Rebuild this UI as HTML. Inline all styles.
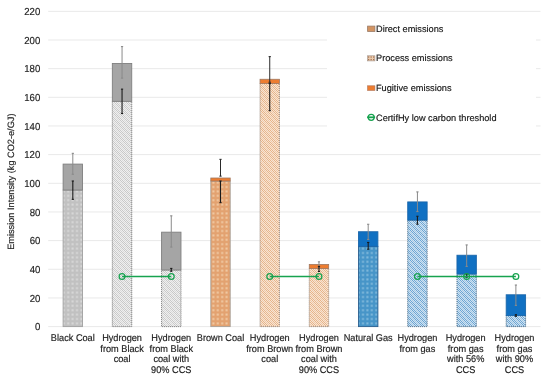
<!DOCTYPE html><html><head><meta charset="utf-8"><style>html,body{margin:0;padding:0;background:#fff;width:550px;height:379px;overflow:hidden}svg{display:block}text{font-family:"Liberation Sans",Arial,sans-serif;text-rendering:geometricPrecision}</style></head><body>
<svg width="550" height="379" viewBox="0 0 550 379">
<defs>
<pattern id="dotG" width="4.4" height="4.4" patternUnits="userSpaceOnUse"><rect width="4.4" height="4.4" fill="#c1c1c1"/><rect x="1.2" y="1.2" width="2" height="2" fill="#d9d9d9"/></pattern>
<pattern id="dotO" width="4.4" height="4.4" patternUnits="userSpaceOnUse"><rect width="4.4" height="4.4" fill="#e3a270"/><rect x="1.2" y="1.2" width="2" height="2" fill="#f0cba6"/></pattern>
<pattern id="dotB" width="4.4" height="4.4" patternUnits="userSpaceOnUse"><rect width="4.4" height="4.4" fill="#4795c8"/><rect x="1.2" y="1.2" width="2" height="2" fill="#82badc"/></pattern>
<pattern id="hatG" width="6" height="6" patternUnits="userSpaceOnUse"><rect width="6" height="6" fill="#efefef"/><rect x="0" y="0" width="1" height="1" fill="#c8c8c8"/><rect x="2" y="0" width="1" height="1" fill="#c8c8c8"/><rect x="4" y="0" width="1" height="1" fill="#d9d9d9"/><rect x="1" y="1" width="1" height="1" fill="#c8c8c8"/><rect x="3" y="1" width="1" height="1" fill="#c8c8c8"/><rect x="5" y="1" width="1" height="1" fill="#d9d9d9"/><rect x="0" y="2" width="1" height="1" fill="#d9d9d9"/><rect x="2" y="2" width="1" height="1" fill="#c8c8c8"/><rect x="4" y="2" width="1" height="1" fill="#c8c8c8"/><rect x="1" y="3" width="1" height="1" fill="#d9d9d9"/><rect x="3" y="3" width="1" height="1" fill="#c8c8c8"/><rect x="5" y="3" width="1" height="1" fill="#c8c8c8"/><rect x="0" y="4" width="1" height="1" fill="#c8c8c8"/><rect x="2" y="4" width="1" height="1" fill="#d9d9d9"/><rect x="4" y="4" width="1" height="1" fill="#c8c8c8"/><rect x="1" y="5" width="1" height="1" fill="#c8c8c8"/><rect x="3" y="5" width="1" height="1" fill="#d9d9d9"/><rect x="5" y="5" width="1" height="1" fill="#c8c8c8"/></pattern>
<pattern id="hatO" width="6" height="6" patternUnits="userSpaceOnUse"><rect width="6" height="6" fill="#f8e4d2"/><rect x="0" y="0" width="1" height="1" fill="#e6b48a"/><rect x="2" y="0" width="1" height="1" fill="#e6b48a"/><rect x="4" y="0" width="1" height="1" fill="#eec8a8"/><rect x="1" y="1" width="1" height="1" fill="#e6b48a"/><rect x="3" y="1" width="1" height="1" fill="#e6b48a"/><rect x="5" y="1" width="1" height="1" fill="#eec8a8"/><rect x="0" y="2" width="1" height="1" fill="#eec8a8"/><rect x="2" y="2" width="1" height="1" fill="#e6b48a"/><rect x="4" y="2" width="1" height="1" fill="#e6b48a"/><rect x="1" y="3" width="1" height="1" fill="#eec8a8"/><rect x="3" y="3" width="1" height="1" fill="#e6b48a"/><rect x="5" y="3" width="1" height="1" fill="#e6b48a"/><rect x="0" y="4" width="1" height="1" fill="#e6b48a"/><rect x="2" y="4" width="1" height="1" fill="#eec8a8"/><rect x="4" y="4" width="1" height="1" fill="#e6b48a"/><rect x="1" y="5" width="1" height="1" fill="#e6b48a"/><rect x="3" y="5" width="1" height="1" fill="#eec8a8"/><rect x="5" y="5" width="1" height="1" fill="#e6b48a"/></pattern>
<pattern id="hatB" width="6" height="6" patternUnits="userSpaceOnUse"><rect width="6" height="6" fill="#cde2f2"/><rect x="0" y="0" width="1" height="1" fill="#6ea5d2"/><rect x="2" y="0" width="1" height="1" fill="#6ea5d2"/><rect x="4" y="0" width="1" height="1" fill="#a5c8e4"/><rect x="1" y="1" width="1" height="1" fill="#6ea5d2"/><rect x="3" y="1" width="1" height="1" fill="#6ea5d2"/><rect x="5" y="1" width="1" height="1" fill="#a5c8e4"/><rect x="0" y="2" width="1" height="1" fill="#a5c8e4"/><rect x="2" y="2" width="1" height="1" fill="#6ea5d2"/><rect x="4" y="2" width="1" height="1" fill="#6ea5d2"/><rect x="1" y="3" width="1" height="1" fill="#a5c8e4"/><rect x="3" y="3" width="1" height="1" fill="#6ea5d2"/><rect x="5" y="3" width="1" height="1" fill="#6ea5d2"/><rect x="0" y="4" width="1" height="1" fill="#6ea5d2"/><rect x="2" y="4" width="1" height="1" fill="#a5c8e4"/><rect x="4" y="4" width="1" height="1" fill="#6ea5d2"/><rect x="1" y="5" width="1" height="1" fill="#6ea5d2"/><rect x="3" y="5" width="1" height="1" fill="#a5c8e4"/><rect x="5" y="5" width="1" height="1" fill="#6ea5d2"/></pattern>
</defs>
<line x1="48.2" y1="326.60" x2="540.5" y2="326.60" stroke="#e9e9e9" stroke-width="1"/>
<line x1="48.2" y1="297.94" x2="540.5" y2="297.94" stroke="#e9e9e9" stroke-width="1"/>
<line x1="48.2" y1="269.28" x2="540.5" y2="269.28" stroke="#e9e9e9" stroke-width="1"/>
<line x1="48.2" y1="240.62" x2="540.5" y2="240.62" stroke="#e9e9e9" stroke-width="1"/>
<line x1="48.2" y1="211.96" x2="540.5" y2="211.96" stroke="#e9e9e9" stroke-width="1"/>
<line x1="48.2" y1="183.30" x2="540.5" y2="183.30" stroke="#e9e9e9" stroke-width="1"/>
<line x1="48.2" y1="154.64" x2="540.5" y2="154.64" stroke="#e9e9e9" stroke-width="1"/>
<line x1="48.2" y1="125.98" x2="540.5" y2="125.98" stroke="#e9e9e9" stroke-width="1"/>
<line x1="48.2" y1="97.32" x2="540.5" y2="97.32" stroke="#e9e9e9" stroke-width="1"/>
<line x1="48.2" y1="68.66" x2="540.5" y2="68.66" stroke="#e9e9e9" stroke-width="1"/>
<line x1="48.2" y1="40.00" x2="540.5" y2="40.00" stroke="#e9e9e9" stroke-width="1"/>
<line x1="48.2" y1="11.34" x2="540.5" y2="11.34" stroke="#e9e9e9" stroke-width="1"/>
<text transform="matrix(1 0 0 1.06 40.3 330.20)" font-size="9.6" fill="#222222" stroke="#222222" stroke-width="0.16" text-anchor="end">0</text>
<text transform="matrix(1 0 0 1.06 40.3 301.54)" font-size="9.6" fill="#222222" stroke="#222222" stroke-width="0.16" text-anchor="end">20</text>
<text transform="matrix(1 0 0 1.06 40.3 272.88)" font-size="9.6" fill="#222222" stroke="#222222" stroke-width="0.16" text-anchor="end">40</text>
<text transform="matrix(1 0 0 1.06 40.3 244.22)" font-size="9.6" fill="#222222" stroke="#222222" stroke-width="0.16" text-anchor="end">60</text>
<text transform="matrix(1 0 0 1.06 40.3 215.56)" font-size="9.6" fill="#222222" stroke="#222222" stroke-width="0.16" text-anchor="end">80</text>
<text transform="matrix(1 0 0 1.06 40.3 186.90)" font-size="9.6" fill="#222222" stroke="#222222" stroke-width="0.16" text-anchor="end">100</text>
<text transform="matrix(1 0 0 1.06 40.3 158.24)" font-size="9.6" fill="#222222" stroke="#222222" stroke-width="0.16" text-anchor="end">120</text>
<text transform="matrix(1 0 0 1.06 40.3 129.58)" font-size="9.6" fill="#222222" stroke="#222222" stroke-width="0.16" text-anchor="end">140</text>
<text transform="matrix(1 0 0 1.06 40.3 100.92)" font-size="9.6" fill="#222222" stroke="#222222" stroke-width="0.16" text-anchor="end">160</text>
<text transform="matrix(1 0 0 1.06 40.3 72.26)" font-size="9.6" fill="#222222" stroke="#222222" stroke-width="0.16" text-anchor="end">180</text>
<text transform="matrix(1 0 0 1.06 40.3 43.60)" font-size="9.6" fill="#222222" stroke="#222222" stroke-width="0.16" text-anchor="end">200</text>
<text transform="matrix(1 0 0 1.06 40.3 14.94)" font-size="9.6" fill="#222222" stroke="#222222" stroke-width="0.16" text-anchor="end">220</text>
<rect x="63.11" y="190.04" width="19.4" height="136.56" fill="url(#dotG)" stroke="#a0a0a0" stroke-width="0.9"/>
<rect x="63.11" y="164.10" width="19.4" height="25.94" fill="#a5a5a5" stroke="#7f7f7f" stroke-width="0.9"/>
<rect x="112.34" y="101.33" width="19.4" height="225.27" fill="url(#hatG)"/>
<rect x="112.34" y="101.33" width="19.4" height="225.27" fill="none" stroke="#7a7a7a" stroke-width="0.9" stroke-dasharray="1.2 0.8"/>
<rect x="112.34" y="63.50" width="19.4" height="37.83" fill="#a5a5a5" stroke="#7f7f7f" stroke-width="0.9"/>
<rect x="161.58" y="270.00" width="19.4" height="56.60" fill="url(#hatG)"/>
<rect x="161.58" y="270.00" width="19.4" height="56.60" fill="none" stroke="#7a7a7a" stroke-width="0.9" stroke-dasharray="1.2 0.8"/>
<rect x="161.58" y="232.17" width="19.4" height="37.83" fill="#a5a5a5" stroke="#7f7f7f" stroke-width="0.9"/>
<rect x="210.81" y="181.01" width="19.4" height="145.59" fill="url(#dotO)" stroke="#a8a098" stroke-width="0.9"/>
<rect x="210.81" y="178.00" width="19.4" height="3.01" fill="#ed7d31" stroke="#a07860" stroke-width="0.8"/>
<rect x="260.04" y="83.42" width="19.4" height="243.18" fill="url(#hatO)"/>
<rect x="260.04" y="83.42" width="19.4" height="243.18" fill="none" stroke="#9a8a80" stroke-width="0.9" stroke-dasharray="1.2 0.8"/>
<rect x="260.04" y="79.26" width="19.4" height="4.16" fill="#ed7d31" stroke="#a07860" stroke-width="0.8"/>
<rect x="309.27" y="268.56" width="19.4" height="58.04" fill="url(#hatO)"/>
<rect x="309.27" y="268.56" width="19.4" height="58.04" fill="none" stroke="#9a8a80" stroke-width="0.9" stroke-dasharray="1.2 0.8"/>
<rect x="309.27" y="264.41" width="19.4" height="4.16" fill="#ed7d31" stroke="#a07860" stroke-width="0.8"/>
<rect x="358.50" y="246.35" width="19.4" height="80.25" fill="url(#dotB)" stroke="#2a5e8e" stroke-width="0.9"/>
<rect x="358.50" y="231.74" width="19.4" height="14.62" fill="#1070c2" stroke="#1a66aa" stroke-width="0.9"/>
<rect x="407.73" y="220.13" width="19.4" height="106.47" fill="url(#hatB)"/>
<rect x="407.73" y="220.13" width="19.4" height="106.47" fill="none" stroke="#506f8a" stroke-width="0.9" stroke-dasharray="1.2 0.8"/>
<rect x="407.73" y="201.93" width="19.4" height="18.20" fill="#1070c2" stroke="#1a66aa" stroke-width="0.9"/>
<rect x="456.96" y="274.01" width="19.4" height="52.59" fill="url(#hatB)"/>
<rect x="456.96" y="274.01" width="19.4" height="52.59" fill="none" stroke="#506f8a" stroke-width="0.9" stroke-dasharray="1.2 0.8"/>
<rect x="456.96" y="255.24" width="19.4" height="18.77" fill="#1070c2" stroke="#1a66aa" stroke-width="0.9"/>
<rect x="506.19" y="315.57" width="19.4" height="11.03" fill="url(#hatB)"/>
<rect x="506.19" y="315.57" width="19.4" height="11.03" fill="none" stroke="#506f8a" stroke-width="0.9" stroke-dasharray="1.2 0.8"/>
<rect x="506.19" y="294.79" width="19.4" height="20.78" fill="#1070c2" stroke="#1a66aa" stroke-width="0.9"/>
<line x1="72.81" y1="153.35" x2="72.81" y2="174.27" stroke="#8a8a8a" stroke-width="1.0"/>
<line x1="71.72" y1="174.27" x2="73.91" y2="174.27" stroke="#8a8a8a" stroke-width="1.1"/>
<line x1="71.72" y1="153.35" x2="73.91" y2="153.35" stroke="#8a8a8a" stroke-width="1.1"/>
<line x1="72.81" y1="181.01" x2="72.81" y2="199.35" stroke="#1a1a1a" stroke-width="1.1"/>
<line x1="71.72" y1="199.35" x2="73.91" y2="199.35" stroke="#1a1a1a" stroke-width="1.1"/>
<line x1="71.72" y1="181.01" x2="73.91" y2="181.01" stroke="#1a1a1a" stroke-width="1.1"/>
<line x1="122.05" y1="46.59" x2="122.05" y2="78.12" stroke="#8a8a8a" stroke-width="1.0"/>
<line x1="120.95" y1="78.12" x2="123.14" y2="78.12" stroke="#8a8a8a" stroke-width="1.1"/>
<line x1="120.95" y1="46.59" x2="123.14" y2="46.59" stroke="#8a8a8a" stroke-width="1.1"/>
<line x1="122.05" y1="89.15" x2="122.05" y2="113.51" stroke="#1a1a1a" stroke-width="1.1"/>
<line x1="120.95" y1="113.51" x2="123.14" y2="113.51" stroke="#1a1a1a" stroke-width="1.1"/>
<line x1="120.95" y1="89.15" x2="123.14" y2="89.15" stroke="#1a1a1a" stroke-width="1.1"/>
<line x1="171.28" y1="215.83" x2="171.28" y2="247.07" stroke="#8a8a8a" stroke-width="1.0"/>
<line x1="170.18" y1="247.07" x2="172.38" y2="247.07" stroke="#8a8a8a" stroke-width="1.1"/>
<line x1="170.18" y1="215.83" x2="172.38" y2="215.83" stroke="#8a8a8a" stroke-width="1.1"/>
<line x1="171.28" y1="268.42" x2="171.28" y2="271.29" stroke="#1a1a1a" stroke-width="1.1"/>
<line x1="170.18" y1="271.29" x2="172.38" y2="271.29" stroke="#1a1a1a" stroke-width="1.1"/>
<line x1="170.18" y1="268.42" x2="172.38" y2="268.42" stroke="#1a1a1a" stroke-width="1.1"/>
<line x1="220.50" y1="159.37" x2="220.50" y2="176.14" stroke="#2a2a2a" stroke-width="1.0"/>
<line x1="219.41" y1="176.14" x2="221.60" y2="176.14" stroke="#2a2a2a" stroke-width="1.1"/>
<line x1="219.41" y1="159.37" x2="221.60" y2="159.37" stroke="#2a2a2a" stroke-width="1.1"/>
<line x1="220.50" y1="181.01" x2="220.50" y2="202.65" stroke="#1a1a1a" stroke-width="1.1"/>
<line x1="219.41" y1="202.65" x2="221.60" y2="202.65" stroke="#1a1a1a" stroke-width="1.1"/>
<line x1="219.41" y1="181.01" x2="221.60" y2="181.01" stroke="#1a1a1a" stroke-width="1.1"/>
<line x1="269.74" y1="56.62" x2="269.74" y2="82.27" stroke="#2a2a2a" stroke-width="1.0"/>
<line x1="268.63" y1="82.27" x2="270.84" y2="82.27" stroke="#2a2a2a" stroke-width="1.1"/>
<line x1="268.63" y1="56.62" x2="270.84" y2="56.62" stroke="#2a2a2a" stroke-width="1.1"/>
<line x1="269.74" y1="83.42" x2="269.74" y2="110.65" stroke="#1a1a1a" stroke-width="1.1"/>
<line x1="268.63" y1="110.65" x2="270.84" y2="110.65" stroke="#1a1a1a" stroke-width="1.1"/>
<line x1="268.63" y1="83.42" x2="270.84" y2="83.42" stroke="#1a1a1a" stroke-width="1.1"/>
<line x1="318.97" y1="261.83" x2="318.97" y2="267.13" stroke="#8a8a8a" stroke-width="1.0"/>
<line x1="317.87" y1="267.13" x2="320.07" y2="267.13" stroke="#8a8a8a" stroke-width="1.1"/>
<line x1="317.87" y1="261.83" x2="320.07" y2="261.83" stroke="#8a8a8a" stroke-width="1.1"/>
<line x1="318.97" y1="266.41" x2="318.97" y2="271.43" stroke="#1a1a1a" stroke-width="1.1"/>
<line x1="317.87" y1="271.43" x2="320.07" y2="271.43" stroke="#1a1a1a" stroke-width="1.1"/>
<line x1="317.87" y1="266.41" x2="320.07" y2="266.41" stroke="#1a1a1a" stroke-width="1.1"/>
<line x1="368.19" y1="224.28" x2="368.19" y2="239.47" stroke="#8a8a8a" stroke-width="1.0"/>
<line x1="367.09" y1="239.47" x2="369.30" y2="239.47" stroke="#8a8a8a" stroke-width="1.1"/>
<line x1="367.09" y1="224.28" x2="369.30" y2="224.28" stroke="#8a8a8a" stroke-width="1.1"/>
<line x1="368.19" y1="242.48" x2="368.19" y2="249.22" stroke="#1a1a1a" stroke-width="1.1"/>
<line x1="367.09" y1="249.22" x2="369.30" y2="249.22" stroke="#1a1a1a" stroke-width="1.1"/>
<line x1="367.09" y1="242.48" x2="369.30" y2="242.48" stroke="#1a1a1a" stroke-width="1.1"/>
<line x1="417.43" y1="191.90" x2="417.43" y2="211.53" stroke="#8a8a8a" stroke-width="1.0"/>
<line x1="416.32" y1="211.53" x2="418.53" y2="211.53" stroke="#8a8a8a" stroke-width="1.1"/>
<line x1="416.32" y1="191.90" x2="418.53" y2="191.90" stroke="#8a8a8a" stroke-width="1.1"/>
<line x1="417.43" y1="216.26" x2="417.43" y2="224.14" stroke="#1a1a1a" stroke-width="1.1"/>
<line x1="416.32" y1="224.14" x2="418.53" y2="224.14" stroke="#1a1a1a" stroke-width="1.1"/>
<line x1="416.32" y1="216.26" x2="418.53" y2="216.26" stroke="#1a1a1a" stroke-width="1.1"/>
<line x1="466.66" y1="244.92" x2="466.66" y2="266.41" stroke="#8a8a8a" stroke-width="1.0"/>
<line x1="465.56" y1="266.41" x2="467.76" y2="266.41" stroke="#8a8a8a" stroke-width="1.1"/>
<line x1="465.56" y1="244.92" x2="467.76" y2="244.92" stroke="#8a8a8a" stroke-width="1.1"/>
<line x1="466.66" y1="273.87" x2="466.66" y2="277.16" stroke="#1a1a1a" stroke-width="1.1"/>
<line x1="465.56" y1="277.16" x2="467.76" y2="277.16" stroke="#1a1a1a" stroke-width="1.1"/>
<line x1="465.56" y1="273.87" x2="467.76" y2="273.87" stroke="#1a1a1a" stroke-width="1.1"/>
<line x1="515.89" y1="285.04" x2="515.89" y2="305.39" stroke="#8a8a8a" stroke-width="1.0"/>
<line x1="514.79" y1="305.39" x2="516.99" y2="305.39" stroke="#8a8a8a" stroke-width="1.1"/>
<line x1="514.79" y1="285.04" x2="516.99" y2="285.04" stroke="#8a8a8a" stroke-width="1.1"/>
<line x1="515.89" y1="314.71" x2="515.89" y2="316.28" stroke="#1a1a1a" stroke-width="1.1"/>
<line x1="514.79" y1="316.28" x2="516.99" y2="316.28" stroke="#1a1a1a" stroke-width="1.1"/>
<line x1="514.79" y1="314.71" x2="516.99" y2="314.71" stroke="#1a1a1a" stroke-width="1.1"/>
<line x1="122.05" y1="276.45" x2="171.28" y2="276.45" stroke="#17a34f" stroke-width="1.6"/>
<line x1="269.74" y1="276.45" x2="318.97" y2="276.45" stroke="#17a34f" stroke-width="1.6"/>
<line x1="417.43" y1="276.45" x2="515.89" y2="276.45" stroke="#17a34f" stroke-width="1.6"/>
<circle cx="122.05" cy="276.45" r="2.9" fill="none" stroke="#17a34f" stroke-width="1.25"/>
<circle cx="171.28" cy="276.45" r="2.9" fill="none" stroke="#17a34f" stroke-width="1.25"/>
<circle cx="269.74" cy="276.45" r="2.9" fill="none" stroke="#17a34f" stroke-width="1.25"/>
<circle cx="318.97" cy="276.45" r="2.9" fill="none" stroke="#17a34f" stroke-width="1.25"/>
<circle cx="417.43" cy="276.45" r="2.9" fill="none" stroke="#17a34f" stroke-width="1.25"/>
<circle cx="466.66" cy="276.45" r="2.9" fill="none" stroke="#17a34f" stroke-width="1.25"/>
<circle cx="515.89" cy="276.45" r="2.9" fill="none" stroke="#17a34f" stroke-width="1.25"/>
<rect x="327" y="18" width="209" height="122" fill="#fff"/>
<rect x="367.6" y="26.10" width="7.3" height="5.4" fill="#d39462" stroke="#9a7a66" stroke-width="0.8"/>
<text transform="matrix(1 0 0 1.0 376.0 31.70)" font-size="9.2" fill="#151515" stroke="#151515" stroke-width="0.16">Direct emissions</text>
<rect x="367.6" y="55.80" width="7.3" height="5.1" fill="#efcfb2" stroke="#9a8a80" stroke-width="0.6"/>
<rect x="368.00" y="56.40" width="1.3" height="1.3" fill="#a67654"/>
<rect x="368.00" y="58.90" width="1.3" height="1.3" fill="#a67654"/>
<rect x="370.50" y="56.40" width="1.3" height="1.3" fill="#a67654"/>
<rect x="370.50" y="58.90" width="1.3" height="1.3" fill="#a67654"/>
<rect x="373.00" y="56.40" width="1.3" height="1.3" fill="#a67654"/>
<rect x="373.00" y="58.90" width="1.3" height="1.3" fill="#a67654"/>
<text transform="matrix(1 0 0 1.0 376.0 61.10)" font-size="9.2" fill="#151515" stroke="#151515" stroke-width="0.16">Process emissions</text>
<rect x="367.6" y="85.80" width="7.3" height="4.6" fill="#ed7d31" stroke="#b07050" stroke-width="0.6"/>
<text transform="matrix(1 0 0 1.0 376.0 90.80)" font-size="9.2" fill="#151515" stroke="#151515" stroke-width="0.16">Fugitive emissions</text>
<line x1="367.1" y1="117.30" x2="375.1" y2="117.30" stroke="#17a34f" stroke-width="1.8"/>
<circle cx="371.20" cy="117.30" r="3.0" fill="none" stroke="#17a34f" stroke-width="1.3"/>
<text transform="matrix(1 0 0 1.0 376.0 120.50)" font-size="9.2" fill="#151515" stroke="#151515" stroke-width="0.16">CertifHy low carbon threshold</text>
<text transform="matrix(1 0 0 1.06 72.81 341.40)" font-size="9.2" fill="#222222" stroke="#222222" stroke-width="0.16" text-anchor="middle">Black Coal</text>
<text transform="matrix(1 0 0 1.06 122.05 341.40)" font-size="9.2" fill="#222222" stroke="#222222" stroke-width="0.16" text-anchor="middle">Hydrogen</text>
<text transform="matrix(1 0 0 1.06 122.05 351.85)" font-size="9.2" fill="#222222" stroke="#222222" stroke-width="0.16" text-anchor="middle">from Black</text>
<text transform="matrix(1 0 0 1.06 122.05 362.30)" font-size="9.2" fill="#222222" stroke="#222222" stroke-width="0.16" text-anchor="middle">coal</text>
<text transform="matrix(1 0 0 1.06 171.28 341.40)" font-size="9.2" fill="#222222" stroke="#222222" stroke-width="0.16" text-anchor="middle">Hydrogen</text>
<text transform="matrix(1 0 0 1.06 171.28 351.85)" font-size="9.2" fill="#222222" stroke="#222222" stroke-width="0.16" text-anchor="middle">from Black</text>
<text transform="matrix(1 0 0 1.06 171.28 362.30)" font-size="9.2" fill="#222222" stroke="#222222" stroke-width="0.16" text-anchor="middle">coal with</text>
<text transform="matrix(1 0 0 1.06 171.28 372.75)" font-size="9.2" fill="#222222" stroke="#222222" stroke-width="0.16" text-anchor="middle">90% CCS</text>
<text transform="matrix(1 0 0 1.06 220.50 341.40)" font-size="9.2" fill="#222222" stroke="#222222" stroke-width="0.16" text-anchor="middle">Brown Coal</text>
<text transform="matrix(1 0 0 1.06 269.74 341.40)" font-size="9.2" fill="#222222" stroke="#222222" stroke-width="0.16" text-anchor="middle">Hydrogen</text>
<text transform="matrix(1 0 0 1.06 269.74 351.85)" font-size="9.2" fill="#222222" stroke="#222222" stroke-width="0.16" text-anchor="middle">from Brown</text>
<text transform="matrix(1 0 0 1.06 269.74 362.30)" font-size="9.2" fill="#222222" stroke="#222222" stroke-width="0.16" text-anchor="middle">coal</text>
<text transform="matrix(1 0 0 1.06 318.97 341.40)" font-size="9.2" fill="#222222" stroke="#222222" stroke-width="0.16" text-anchor="middle">Hydrogen</text>
<text transform="matrix(1 0 0 1.06 318.97 351.85)" font-size="9.2" fill="#222222" stroke="#222222" stroke-width="0.16" text-anchor="middle">from Brown</text>
<text transform="matrix(1 0 0 1.06 318.97 362.30)" font-size="9.2" fill="#222222" stroke="#222222" stroke-width="0.16" text-anchor="middle">coal with</text>
<text transform="matrix(1 0 0 1.06 318.97 372.75)" font-size="9.2" fill="#222222" stroke="#222222" stroke-width="0.16" text-anchor="middle">90% CCS</text>
<text transform="matrix(1 0 0 1.06 368.19 341.40)" font-size="9.2" fill="#222222" stroke="#222222" stroke-width="0.16" text-anchor="middle">Natural Gas</text>
<text transform="matrix(1 0 0 1.06 417.43 341.40)" font-size="9.2" fill="#222222" stroke="#222222" stroke-width="0.16" text-anchor="middle">Hydrogen</text>
<text transform="matrix(1 0 0 1.06 417.43 351.85)" font-size="9.2" fill="#222222" stroke="#222222" stroke-width="0.16" text-anchor="middle">from gas</text>
<text transform="matrix(1 0 0 1.06 465.66 341.40)" font-size="9.2" fill="#222222" stroke="#222222" stroke-width="0.16" text-anchor="middle">Hydrogen</text>
<text transform="matrix(1 0 0 1.06 465.66 351.85)" font-size="9.2" fill="#222222" stroke="#222222" stroke-width="0.16" text-anchor="middle">from gas</text>
<text transform="matrix(1 0 0 1.06 465.66 362.30)" font-size="9.2" fill="#222222" stroke="#222222" stroke-width="0.16" text-anchor="middle">with 56%</text>
<text transform="matrix(1 0 0 1.06 465.66 372.75)" font-size="9.2" fill="#222222" stroke="#222222" stroke-width="0.16" text-anchor="middle">CCS</text>
<text transform="matrix(1 0 0 1.06 514.49 341.40)" font-size="9.2" fill="#222222" stroke="#222222" stroke-width="0.16" text-anchor="middle">Hydrogen</text>
<text transform="matrix(1 0 0 1.06 514.49 351.85)" font-size="9.2" fill="#222222" stroke="#222222" stroke-width="0.16" text-anchor="middle">from gas</text>
<text transform="matrix(1 0 0 1.06 514.49 362.30)" font-size="9.2" fill="#222222" stroke="#222222" stroke-width="0.16" text-anchor="middle">with 90%</text>
<text transform="matrix(1 0 0 1.06 514.49 372.75)" font-size="9.2" fill="#222222" stroke="#222222" stroke-width="0.16" text-anchor="middle">CCS</text>
<text transform="translate(14.3,181.7) rotate(-90)" font-size="9.2" fill="#222222" stroke="#222222" stroke-width="0.16" text-anchor="middle">Emission Intensity (kg CO2-e/GJ)</text>
</svg></body></html>
